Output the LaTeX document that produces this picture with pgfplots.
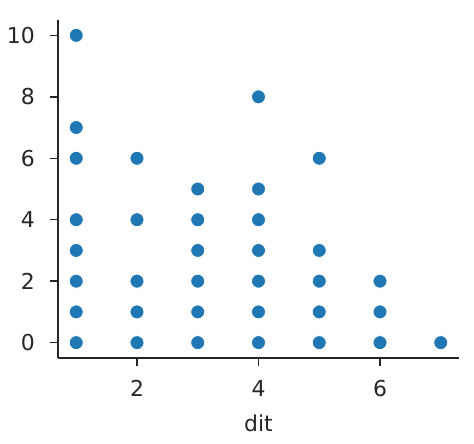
\documentclass[border=0pt]{standalone}
\usepackage{fontspec}
\setmainfont{DejaVu Sans}
\usepackage{pgfplots}
\pgfplotsset{compat=1.18}
\definecolor{tabblue}{HTML}{1F77B4}
\definecolor{ink}{HTML}{262626}
\begin{document}
\begin{tikzpicture}
	\begin{axis}[
		at={(58bp,86bp)}, anchor=south west,
		scale only axis,
		width=401bp, height=338bp,
		xmin=0.7, xmax=7.3,
		ymin=-0.5, ymax=10.5,
		axis x line*=bottom,
		axis y line*=left,
		axis line style={ink, line width=1.5bp},
		xtick={2,4,6},
		ytick={0,2,4,6,8,10},
		tick align=outside,
		major tick length=8bp,
		tick style={ink, line width=1.5bp},
		/pgf/number format/assume math mode=true,
		tick label style={font=\fontsize{22}{26}\selectfont, text=ink, inner sep=0pt},
		xticklabel shift=14bp,
		yticklabel shift=15bp,
		xlabel={dit},
		xlabel style={font=\fontsize{22}{26}\selectfont, text=ink,
			at={(axis description cs:0.5,0)}, anchor=base, yshift=-73bp},
		clip=false,
		]
		\addplot[only marks, mark=*, mark size=7bp,
			mark options={fill=tabblue, draw=white, line width=0.8bp}]
		coordinates {
			(1,0) (1,1) (1,2) (1,3) (1,4) (1,6) (1,7) (1,10)
			(2,0) (2,1) (2,2) (2,4) (2,6)
			(3,0) (3,1) (3,2) (3,3) (3,4) (3,5)
			(4,0) (4,1) (4,2) (4,3) (4,4) (4,5) (4,8)
			(5,0) (5,1) (5,2) (5,3) (5,6)
			(6,0) (6,1) (6,2)
			(7,0)
		};
	\end{axis}
	\path (0,0) rectangle (474bp,444bp);
\end{tikzpicture}
\end{document}
